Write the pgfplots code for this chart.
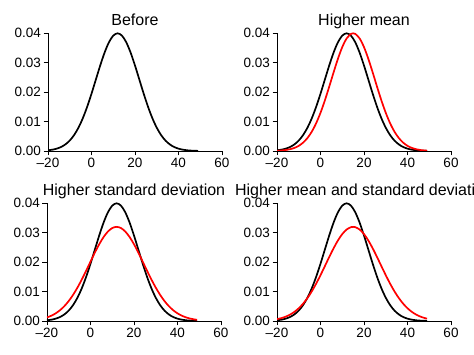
\documentclass[border=0pt]{standalone}
\usepackage{fontspec}
\setmainfont{Liberation Sans}
\usepackage{pgfplots}
\pgfplotsset{compat=1.18}
\usepackage{pgfplotstable}

% Before: mean 12, sd 10
\pgfplotstableread{
x y
-20 0.000238
-18 0.000443
-16 0.000792
-14 0.001358
-12 0.002239
-10 0.003547
-8 0.005399
-6 0.007895
-4 0.011092
-2 0.014973
0 0.019419
2 0.024197
4 0.028969
6 0.033322
8 0.036827
10 0.039104
12 0.039894
14 0.039104
16 0.036827
18 0.033322
20 0.028969
22 0.024197
24 0.019419
26 0.014973
28 0.011092
30 0.007895
32 0.005399
34 0.003547
36 0.002239
38 0.001358
40 0.000792
42 0.000443
44 0.000238
46 0.000123
48 0.000061
49 0.000043
}\before

% Higher mean: mean 15, sd 10
\pgfplotstableread{
x y
-20 0.000087
-18 0.000172
-16 0.000327
-14 0.000595
-12 0.001042
-10 0.001753
-8 0.002833
-6 0.004398
-4 0.006562
-2 0.009405
0 0.012952
2 0.017137
4 0.021785
6 0.026608
8 0.031225
10 0.035207
12 0.038139
14 0.039695
15 0.039894
16 0.039695
18 0.038139
20 0.035207
22 0.031225
24 0.026608
26 0.021785
28 0.017137
30 0.012952
32 0.009405
34 0.006562
36 0.004398
38 0.002833
40 0.001753
42 0.001042
44 0.000595
46 0.000327
48 0.000172
49 0.000123
}\highmean

% Higher sd: mean 12, sd 12.5
\pgfplotstableread{
x y
-20 0.001205
-18 0.001792
-16 0.002597
-14 0.003669
-12 0.005052
-10 0.006782
-8 0.008874
-6 0.011317
-4 0.014068
-2 0.017046
0 0.020132
2 0.023175
4 0.026005
6 0.028443
8 0.030323
10 0.031510
12 0.031915
14 0.031510
16 0.030323
18 0.028443
20 0.026005
22 0.023175
24 0.020132
26 0.017046
28 0.014068
30 0.011317
32 0.008874
34 0.006782
36 0.005052
38 0.003669
40 0.002597
42 0.001792
44 0.001205
46 0.000790
48 0.000505
49 0.000399
}\highsd

% Higher mean and sd: mean 15, sd 12.5
\pgfplotstableread{
x y
-20 0.000633
-18 0.000978
-16 0.001474
-14 0.002164
-12 0.003097
-10 0.004319
-8 0.005872
-6 0.007783
-4 0.010053
-2 0.012658
0 0.015535
2 0.018584
4 0.021670
6 0.024628
8 0.027284
10 0.029462
12 0.031009
14 0.031813
15 0.031915
16 0.031813
18 0.031009
20 0.029462
22 0.027284
24 0.024628
26 0.021670
28 0.018584
30 0.015535
32 0.012658
34 0.010053
36 0.007783
38 0.005872
40 0.004319
42 0.003097
44 0.002164
46 0.001474
48 0.000978
49 0.000790
}\highboth

\pgfplotsset{
  dist/.style={
    width=174pt, height=118pt, scale only axis,
    anchor=south west,
    xmin=-20, xmax=60, ymin=0, ymax=0.04,
    axis x line*=bottom, axis y line*=left,
    tick align=outside,
    xtick={-20,0,20,40,60},
    xticklabels={–20,0,20,40,60},
    ytick={0,0.01,0.02,0.03,0.04},
    yticklabels={0.00,0.01,0.02,0.03,0.04},
    scaled y ticks=false,
    major tick length=4.5pt,
    axis line style={line width=0.8pt, black},
    every tick/.style={line width=0.8pt, black},
    tick label style={font=\fontsize{13.5}{13.5}\selectfont, black},
    xticklabel style={yshift=1pt},
    yticklabel style={xshift=1pt},
    title style={font=\fontsize{16}{16}\selectfont, at={(0.5,1)}, anchor=base, yshift=1pt},
  },
  blk/.style={black, line width=1.7pt, smooth, no marks},
  rd/.style={red, line width=1.7pt, smooth, no marks},
}

\begin{document}
\begin{tikzpicture}
\useasboundingbox (0,0) rectangle (474pt,355pt);
\clip (0,0) rectangle (474pt,355pt);

\begin{axis}[dist, at={(48pt,204pt)}, title={Before}]
\addplot[blk] table[x=x,y=y] {\before};
\end{axis}

\begin{axis}[dist, at={(277pt,204pt)}, title={Higher mean}]
\addplot[blk] table[x=x,y=y] {\before};
\addplot[rd] table[x=x,y=y] {\highmean};
\end{axis}

\begin{axis}[dist, at={(47pt,34pt)}, title={Higher standard deviation}]
\addplot[blk] table[x=x,y=y] {\before};
\addplot[rd] table[x=x,y=y] {\highsd};
\end{axis}

\begin{axis}[dist, at={(277pt,34pt)}, title={Higher mean and standard deviation}]
\addplot[blk] table[x=x,y=y] {\before};
\addplot[rd] table[x=x,y=y] {\highboth};
\end{axis}
\end{tikzpicture}
\end{document}
